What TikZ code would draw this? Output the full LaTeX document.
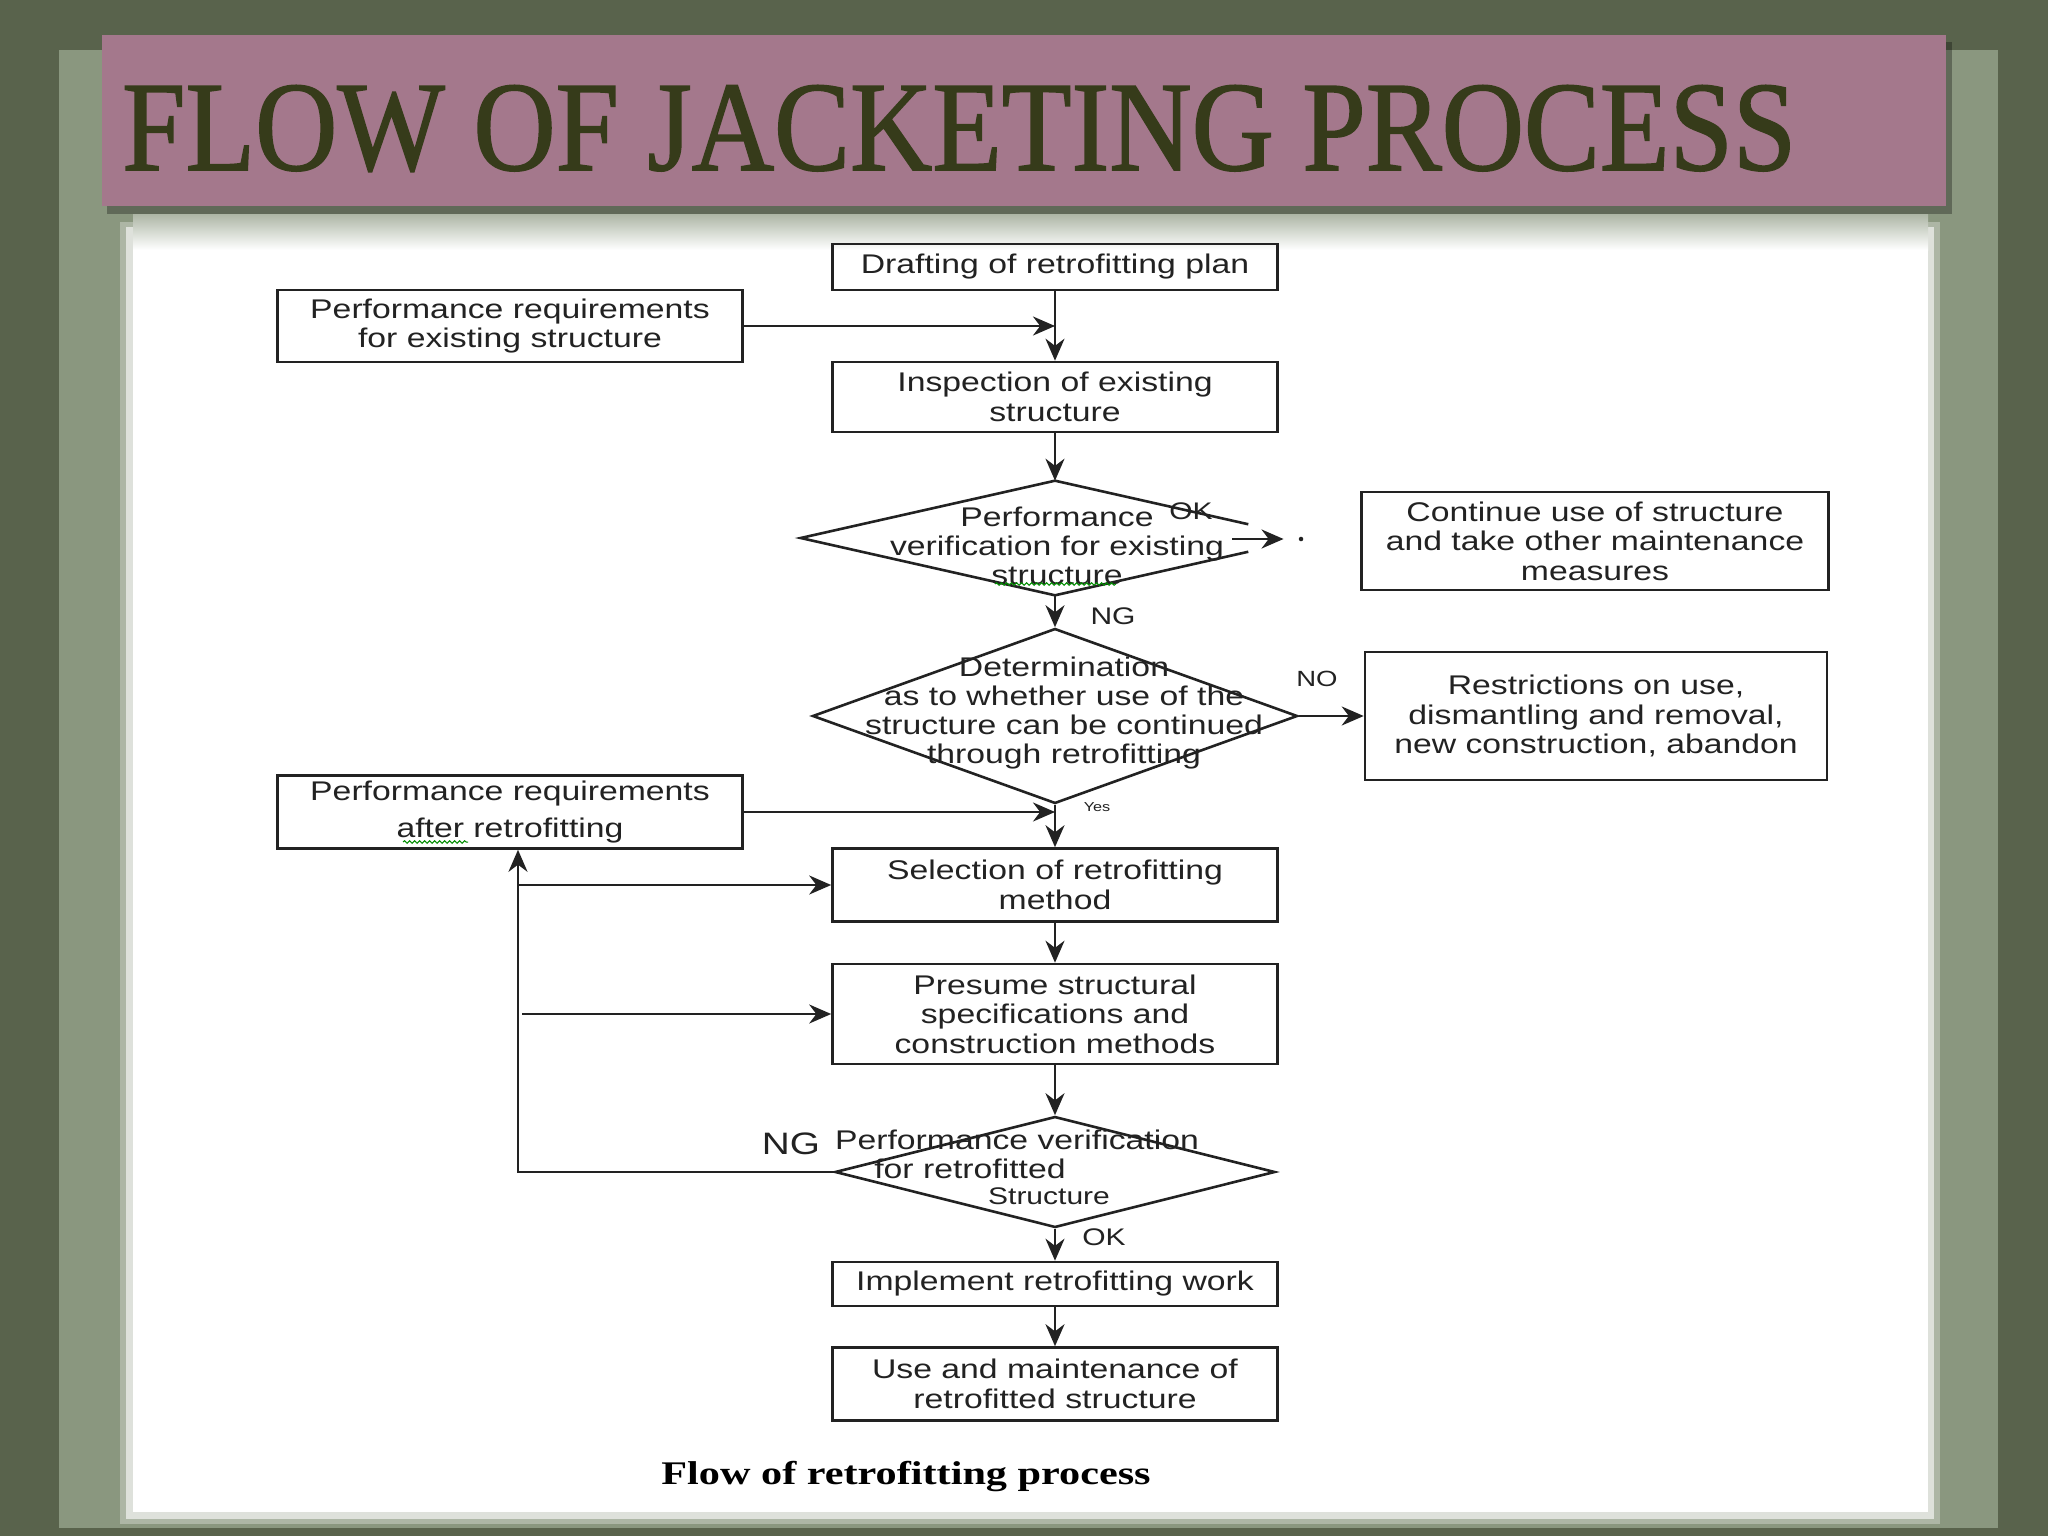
\documentclass[tikz,border=0pt]{standalone}
\usepackage{fontspec}
\setmainfont{Liberation Sans}
\newfontfamily\boxfont{Liberation Sans}[FakeStretch=1.25]
\newfontfamily\titlefont{Liberation Serif}[FakeStretch=0.89,FakeBold=1.2]
\newfontfamily\capfont{Liberation Serif}[FakeStretch=1.28]
\usetikzlibrary{shapes.geometric,arrows.meta,calc,decorations.pathmorphing}
\definecolor{bgdark}{HTML}{59634C}
\definecolor{rim}{HTML}{8A977F}
\definecolor{titlebar}{HTML}{A4788C}
\definecolor{titletext}{HTML}{363B1A}
\definecolor{ink}{HTML}{222222}
\tikzset{
  box/.style={draw=ink, line width=2.6pt, rectangle, inner sep=0pt, align=center,
    font=\boxfont\fontsize{27}{29.5}\selectfont, text=ink},
  dia/.style={draw=ink, line width=2.6pt, diamond, inner sep=0pt},
  dtext/.style={align=center, inner sep=0pt, text=ink,
    font=\boxfont\fontsize{27}{29}\selectfont},
  lbl/.style={inner sep=0pt, text=ink, font=\boxfont\fontsize{24}{24}\selectfont},
  arr/.style={draw=ink, line width=2.6pt, -{Stealth[length=22pt,width=19pt]}},
  ln/.style={draw=ink, line width=2.6pt},
  squig/.style={draw=green!55!black, line width=1pt, decorate,
    decoration={snake, amplitude=1.3pt, segment length=5pt}}
}
\begin{document}
\begin{tikzpicture}[x=1pt,y=-1pt]
\useasboundingbox (0,0) rectangle (2048,1536);
% background
\fill[bgdark] (0,0) rectangle (2048,1536);
\fill[rim] (59,50) rectangle (1998,1528);
\fill[white, opacity=0.3] (120,222) rectangle (1940,1524);
\fill[white, opacity=0.6] (126,227) rectangle (1934,1519);
\fill[white] (133,234) rectangle (1928,1512);
\shade[top color=rim!70!white, bottom color=white] (133,214) rectangle (1928,250);
% title bar
\fill[black, opacity=0.3] (107,42) rectangle (1952,214);
\fill[titlebar] (102,35) rectangle (1946,206);
\node[anchor=base west, inner sep=0pt, text=titletext,
  font=\titlefont\fontsize{128}{128}\selectfont] (title) at (122,170) {FLOW OF JACKETING PROCESS};

% flowchart
\node[box, minimum width=445pt, minimum height=46pt] (draft) at (1055,267) {Drafting of retrofitting plan};
\node[box, minimum width=465pt, minimum height=72pt] (preq1) at (510,326) {Performance requirements\\for existing structure};
\node[box, minimum width=445pt, minimum height=70pt] (insp) at (1055,397) {Inspection of existing\\structure};
\node[dia, draw=none, minimum width=506pt, minimum height=112pt] (d1) at (1055,538) {};
\node[dtext] (d1t) at (1057,546) {Performance\\verification for existing\\structure};
\node[box, minimum width=467pt, minimum height=98pt] (cont) at (1595,541) {Continue use of structure\\and take other maintenance\\measures};
\node[dia, minimum width=485pt, minimum height=175pt] (d2) at (1055,716) {};
\node[dtext] (d2t) at (1064,713) {Determination\\as to whether use of the\\structure can be continued\\through retrofitting};
\node[box, minimum width=462pt, minimum height=128pt] (restr) at (1596,716) {Restrictions on use,\\dismantling and removal,\\new construction, abandon};
\node[box, minimum width=465pt, minimum height=73pt] (preq2) at (510,812) {Performance requirements\\[8pt]after retrofitting};
\node[box, minimum width=445pt, minimum height=73pt] (sel) at (1055,885) {Selection of retrofitting\\method};
\node[box, minimum width=445pt, minimum height=100pt] (pres) at (1055,1014) {Presume structural\\specifications and\\construction methods};
\node[dia, minimum width=440pt, minimum height=111pt] (d3) at (1055,1172) {};
\node[dtext] (d3a) at (1017,1140) {Performance verification};
\node[dtext] (d3b) at (970,1169) {for retrofitted};
\node[dtext, font=\boxfont\fontsize{24}{24}\selectfont] (d3c) at (1049,1196) {Structure};
\node[box, minimum width=445pt, minimum height=44pt] (impl) at (1055,1284) {Implement retrofitting work};
\node[box, minimum width=445pt, minimum height=73pt] (use) at (1055,1384) {Use and maintenance of\\retrofitted structure};

% labels
\node[lbl] (okl) at (1191,511) {OK};
\node[lbl] (ngl) at (1113,616) {NG};
\node[lbl, font=\boxfont\fontsize{22}{22}\selectfont] (nol) at (1317,679) {NO};
\node[lbl, font=\boxfont\fontsize{13}{13}\selectfont] (yesl) at (1097,807) {Yes};
\node[lbl, font=\boxfont\fontsize{31}{31}\selectfont] (ng3) at (791,1144) {NG};
\node[lbl] (ok3) at (1104,1237) {OK};

% diamond 1 outline (right tip open)
\draw[ln] ($(d1.east)!0.24!(d1.north)$) -- (d1.north) -- (d1.west) -- (d1.south) -- ($(d1.east)!0.24!(d1.south)$);

% connectors
\draw[arr] (draft.south) -- (insp.north);
\draw[arr] (preq1.east) -- (preq1.east -| draft.south);
\draw[arr] (insp.south) -- (d1.north);
\coordinate (okA) at (1232,539);
\node[circle, fill=ink, inner sep=1.6pt] (okdot) at (1301,539) {};
\draw[arr, shorten >=15pt] (okA) -- (okdot);
\draw[arr] (d1.south) -- (d2.north);
\draw[arr] (d2.east) -- (restr.west);
\draw[arr] (d2.south) -- (sel.north);
\draw[arr] (preq2.east) -- (preq2.east -| sel.north);
\draw[arr] (sel.south) -- (pres.north);
\draw[arr] (pres.south) -- (d3.north);
\coordinate (loop) at (518,1172);
\draw[arr] (d3.west) -- (loop) -- (preq2.south -| loop);
\draw[arr] (loop |- sel.west) -- (sel.west);
\draw[arr] ($(loop |- pres.west)+(4,0)$) -- (pres.west);
\draw[arr] (d3.south) -- (impl.north);
\draw[arr] (impl.south) -- (use.north);

% spelling squiggles
\draw[squig] (403,842) -- (468,842);
\draw[squig] (995,584) -- (1116,584);

% caption
\node[inner sep=0pt, text=black, font=\capfont\bfseries\fontsize{33}{33}\selectfont] (cap) at (906,1477) {Flow of retrofitting process};
\end{tikzpicture}
\end{document}
